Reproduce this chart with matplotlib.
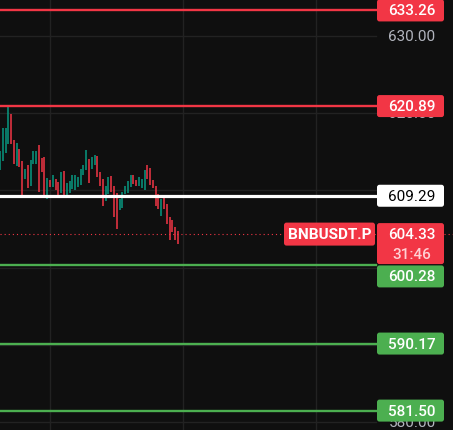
import matplotlib.pyplot as plt
from matplotlib.patches import FancyBboxPatch
from matplotlib.transforms import blended_transform_factory

plt.rcParams["font.family"] = ["Roboto", "DejaVu Sans"]

# candle ranges (oldest -> newest)
highs = [615.02, 618.04, 618.04, 620.88, 619.81, 616.44, 616.10, 615.28, 613.73, 612.69,
         613.21, 613.86, 615.02, 615.02, 615.80, 614.11, 614.24, 611.61, 611.27, 611.91,
         611.40, 611.01, 612.30, 612.43, 610.88, 611.14, 611.91, 611.91, 611.66, 612.69,
         613.21, 615.15, 613.98, 614.24, 614.50, 614.37, 612.30, 611.40, 610.49, 611.66,
         611.79, 610.49, 609.71, 608.81, 609.84, 610.49, 611.14, 611.91, 611.91, 611.27,
         611.66, 611.40, 612.56, 613.21, 612.82, 611.27, 610.49, 609.46, 608.81, 609.20,
         608.16, 606.48, 606.09, 605.19, 604.67]
lows = [612.56, 613.73, 614.80, 616.01, 615.92, 613.34, 613.08, 612.99, 609.03, 611.40,
        610.23, 610.49, 613.34, 613.42, 609.84, 612.30, 609.20, 608.81, 610.36, 610.36,
        609.97, 609.20, 609.71, 608.94, 609.33, 609.71, 610.10, 609.97, 610.36, 610.62,
        611.91, 612.56, 610.88, 612.69, 613.21, 611.66, 610.49, 607.90, 608.55, 609.46,
        609.84, 606.48, 604.93, 607.39, 607.65, 609.46, 609.59, 610.36, 610.75, 610.49,
        610.49, 610.23, 609.97, 611.40, 610.62, 610.23, 607.90, 607.52, 606.61, 607.52,
        605.58, 603.51, 604.54, 603.51, 602.99]
up = [1, 1, 1, 1, 0, 0, 1, 0, 0, 1, 0, 1, 1, 1, 0, 0, 0, 1, 0, 1,
      0, 0, 1, 0, 1, 1, 1, 1, 1, 1, 1, 1, 0, 1, 1, 0, 0, 0, 1, 1,
      0, 0, 0, 1, 1, 1, 1, 1, 0, 0, 1, 1, 1, 0, 0, 0, 0, 0, 1, 0,
      0, 0, 0, 0, 0]

red_levels = [633.26, 620.89]
white_level = 609.29
green_levels = [600.28, 590.17, 581.50]
last_price = 604.33
countdown = "31:46"
symbol = "BNBUSDT.P"
grid_prices = [630, 620, 610, 600, 590, 580]
axis_labels = [630, 620, 580]  # the others sit fully under level tags

BG = "#0f0f0f"
GRID = "#222222"
RED = "#f23645"
GREEN = "#4caf50"
UP = "#089981"
AXIS_TXT = "#b2b5be"

W, H = 453, 431
ymin, ymax = 578.99, 634.74
px_y = (ymax - ymin) / H

fig = plt.figure(figsize=(W / 100, H / 100), dpi=100, facecolor=BG)
ax = fig.add_axes([0, 0, 1, 1], facecolor=BG)
ax.set_xlim(0, W / 2.78)
ax.set_ylim(ymin, ymax)
ax.axis("off")

plot_end = 376 / W
tr = blended_transform_factory(ax.transAxes, ax.transData)

# grid
for gx in [18, 65.8, 113.7]:
    ax.axvline(gx, color=GRID, lw=1, zorder=0)
for p in grid_prices:
    ax.axhline(p, xmax=plot_end, color=GRID, lw=1, zorder=0)
for p in axis_labels:
    ax.text(412 / W, p, f"{p:.2f}", transform=tr, color=AXIS_TXT, fontsize=11,
            ha="center", va="center", zorder=1)

# candles
for i, (hi, lo, u) in enumerate(zip(highs, lows, up)):
    ax.vlines(i, lo, hi, color=UP if u else RED, lw=1.1, zorder=3)

# level lines
for p in red_levels:
    ax.axhline(p, xmax=plot_end, color=RED, lw=1.7, zorder=4)
ax.axhline(white_level, xmax=plot_end, color="white", lw=2.3, zorder=4)
for p in green_levels:
    ax.axhline(p, xmax=plot_end, color=GREEN, lw=1.7, zorder=4)
ax.axhline(last_price, color=RED, lw=0.8, ls=(0, (1, 2.7)), zorder=2)


def label(x0, x1, yc, h, fc, zorder=6):
    box = FancyBboxPatch((x0 / W, yc - h * px_y / 2), (x1 - x0) / W, h * px_y,
                         boxstyle=f"round,pad=0,rounding_size={2.5 / W}",
                         mutation_aspect=px_y * W, transform=tr, fc=fc, ec="none",
                         zorder=zorder, clip_on=False)
    ax.add_patch(box)


for p in red_levels:
    label(377, 444, p, 22, RED)
    ax.text(412 / W, p, f"{p:.2f}", transform=tr, color="white", fontsize=11,
            fontweight="medium", ha="center", va="center", zorder=7)

label(377, 444, white_level, 22, "white")
ax.text(412 / W, white_level, f"{white_level:.2f}", transform=tr, color="black",
        fontsize=11, ha="center", va="center", zorder=7)

# last price + countdown
label(377, 444, last_price - 9.5 * px_y, 41, RED)
ax.text(412 / W, last_price, f"{last_price:.2f}", transform=tr, color="white",
        fontsize=11, fontweight="medium", ha="center", va="center", zorder=7)
ax.text(412 / W, last_price - 20 * px_y, countdown, transform=tr, color="#ffd0d4",
        fontsize=11, fontweight="medium", ha="center", va="center", zorder=7)
label(284, 375, last_price, 23, RED)
ax.text(330 / W, last_price, symbol, transform=tr, color="white", fontsize=11,
        fontweight="bold", ha="center", va="center", zorder=7)

offsets = [-11, 0, 0]
for p, off in zip(green_levels, offsets):
    yc = p + off * px_y
    label(377, 444, yc, 22, GREEN)
    ax.text(412 / W, yc, f"{p:.2f}", transform=tr, color="white", fontsize=11,
            fontweight="medium", ha="center", va="center", zorder=7)

fig.savefig("out.png", dpi=100, facecolor=BG)
